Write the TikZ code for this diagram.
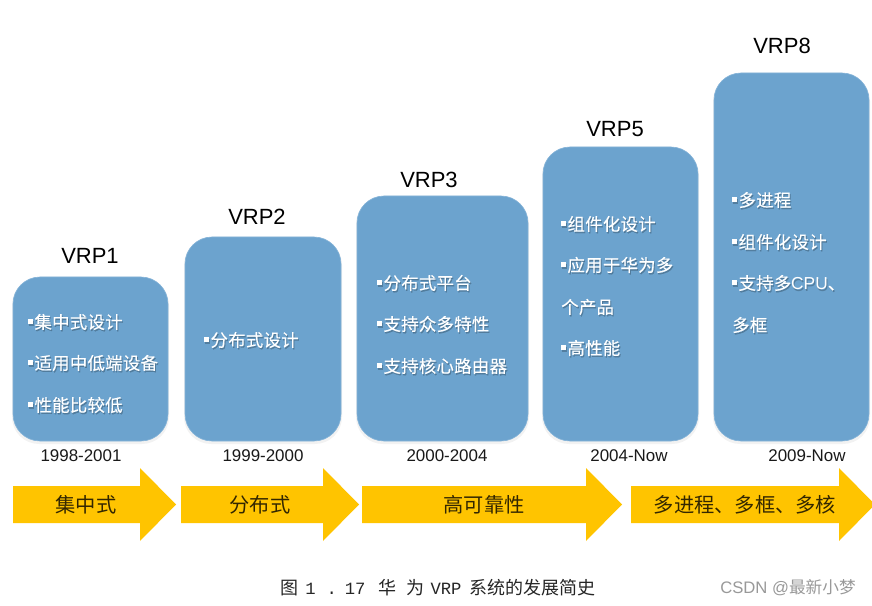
\documentclass[tikz,border=0pt]{standalone}
\usepackage{fontspec}
\setmainfont{Liberation Sans}
\newfontfamily\cjk[LetterSpace=2,FakeBold=0.25]{Noto Sans CJK SC}
\newfontfamily\cjkplain{Noto Sans CJK SC}
\newfontfamily\capmono{Liberation Mono}
\definecolor{boxblue}{HTML}{6CA3CE}
\definecolor{boxedge}{HTML}{84B3D8}
\definecolor{amber}{HTML}{FFC400}
\tikzset{
  x=0.75pt,y=-0.75pt,
  bluebox/.style={fill=boxblue,draw=boxedge,line width=0.45pt},
  boxhalo/.style={fill=black,opacity=0.05,draw=none},
  arrowshape/.style={fill=amber,draw=none},
  titletext/.style={font=\fontsize{16.5}{18}\selectfont,text=black,inner sep=0pt},
  yeartext/.style={font=\fontsize{12.7}{14}\selectfont,text=black!90,inner sep=0pt},
  itemtext/.style={anchor=west,inner sep=0pt,text=white,font=\fontsize{13}{15}\selectfont},
  itemshadow/.style={anchor=west,inner sep=0pt,text=boxblue!50!black,opacity=0.45,font=\fontsize{13}{15}\selectfont},
  arrowtext/.style={inner sep=0pt,text=black!80!amber,font=\cjkplain\fontsize{15.2}{17}\selectfont},
}
\newcommand{\rbox}[6]{% name x1 y1 x2 y2 radius
  \fill[boxhalo,rounded corners=#6*0.75pt] (#2-1,#3+1) rectangle (#4+1,#5+3);
  \draw[bluebox,rounded corners=#6*0.75pt] (#2,#3) rectangle (#4,#5);
  \coordinate (#1) at (#2,#3);
}
\newcommand{\itemline}[4]{% name x y text
  \node[itemshadow] at (#2+1,#3+1.5) {#4};
  \node[itemtext] (#1) at (#2,#3) {#4};
}
\newcommand{\bul}{\rule[3.4pt]{3.5pt}{3.5pt}\hspace{1.2pt}}
\newcommand{\px}[1]{\hspace{#1\dimexpr0.75pt\relax}}
\begin{document}
\begin{tikzpicture}
\useasboundingbox (0,0) rectangle (872,606);
\clip (0,0) rectangle (872,606);
\fill[white] (0,0) rectangle (872,606);

\rbox{b1}{13}{277}{168}{441}{27}
\rbox{b2}{185}{237}{341}{441}{27}
\rbox{b3}{357}{196}{528}{441}{27}
\rbox{b4}{543}{147}{698}{441}{27}
\rbox{b5}{714}{73}{869}{441}{27}

\node[titletext] (t1) at (90,256) {VRP1};
\node[titletext] (t2) at (257,217) {VRP2};
\node[titletext] (t3) at (429,180) {VRP3};
\node[titletext] (t5) at (615,129) {VRP5};
\node[titletext] (t8) at (782,46) {VRP8};

\itemline{a1}{28}{322}{\bul\cjk 集中式设计}
\itemline{a2}{28}{363}{\bul\cjk 适用中低端设备}
\itemline{a3}{28}{405}{\bul\cjk 性能比较低}

\itemline{c1}{204}{340}{\bul\cjk 分布式设计}

\itemline{d1}{377}{283}{\bul\cjk 分布式平台}
\itemline{d2}{377}{324}{\bul\cjk 支持众多特性}
\itemline{d3}{377}{366}{\bul\cjk 支持核心路由器}

\itemline{e1}{561}{224}{\bul\cjk 组件化设计}
\itemline{e2}{561}{265}{\bul\cjk 应用于华为多}
\itemline{e3}{561}{307}{\cjk 个产品}
\itemline{e4}{561}{348}{\bul\cjk 高性能}

\itemline{f1}{732}{200}{\bul\cjk 多进程}
\itemline{f2}{732}{242}{\bul\cjk 组件化设计}
\itemline{f3}{732}{283}{\bul{\cjk 支持多}CPU{\cjk 、}}
\itemline{f4}{732}{325}{\cjk 多框}

\node[yeartext] (y1) at (81,456) {1998-2001};
\node[yeartext] (y2) at (263,456) {1999-2000};
\node[yeartext] (y3) at (447,456) {2000-2004};
\node[yeartext] (y4) at (629,456) {2004-Now};
\node[yeartext] (y5) at (807,456) {2009-Now};

\fill[arrowshape] (13,486) -- (140,486) -- (140,468) -- (176,504.5) -- (140,541) -- (140,523) -- (13,523) -- cycle;
\fill[arrowshape] (181,486) -- (323,486) -- (323,468) -- (359,504.5) -- (323,541) -- (323,523) -- (181,523) -- cycle;
\fill[arrowshape] (362,486) -- (586,486) -- (586,468) -- (622,504.5) -- (586,541) -- (586,523) -- (362,523) -- cycle;
\fill[arrowshape] (631,486) -- (839,486) -- (839,468) -- (875,504.5) -- (839,541) -- (839,523) -- (631,523) -- cycle;

\node[arrowtext] (l1) at (86,505) {集中式};
\node[arrowtext] (l2) at (260,505) {分布式};
\node[arrowtext] (l3) at (484,505) {高可靠性};
\node[arrowtext] (l4) at (745,505) {多进程、多框、多核};

\node[anchor=west,inner sep=0pt,text=black!85,font=\cjkplain\fontsize{13.5}{15}\selectfont] (cap) at (280,588)
  {图\px{7}{\capmono\fontsize{12.9}{15}\selectfont 1}\px{11}{\capmono\fontsize{12.9}{15}\selectfont .}\px{8}{\capmono\fontsize{12.9}{15}\selectfont 17}\px{13}华\px{10}为\px{6}{\capmono\fontsize{12.9}{15}\selectfont VRP}\px{8}系统的发展简史};
\node[anchor=west,inner sep=0pt,text=black!40,font=\fontsize{12.5}{14}\selectfont] (wm) at (720,588)
  {CSDN @{\cjkplain 最新小梦}};
\end{tikzpicture}
\end{document}
